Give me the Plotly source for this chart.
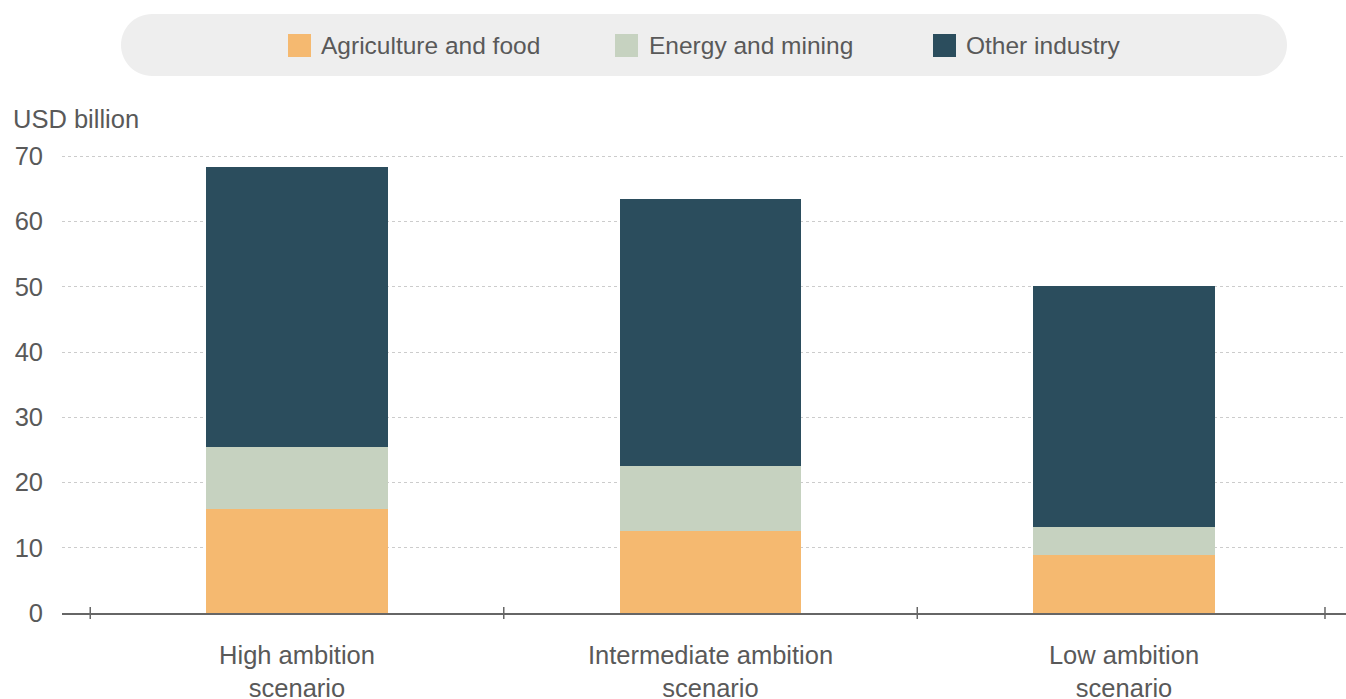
import plotly.graph_objects as go

# ---------------- data ----------------
categories = ["High ambition<br>scenario", "Intermediate ambition<br>scenario", "Low ambition<br>scenario"]
series_names = ["Agriculture and food", "Energy and mining", "Other industry"]
agri_food = [15.9, 12.5, 8.9]
energy_mining = [9.5, 10.1, 4.3]
other_industry = [42.9, 40.8, 36.9]
y_tick_values = [0, 10, 20, 30, 40, 50, 60, 70]
y_title = "USD billion"

# ---------------- styling ----------------
colors = ["#F5B970", "#C6D2C0", "#2B4D5D"]
text_color = "#595959"
axis_color = "#666666"
font_family = "Liberation Sans, Arial, sans-serif"
AXIS_FONT = 25.5
LEGEND_FONT = 24.5
W, H = 1346, 699
ML, MR, MT, MB = 62, 0, 153, 86
PW, PH = W - ML - MR, H - MT - MB


def px(x):
    return (x - ML) / PW


def py(y):
    return (H - MB - y) / PH


series_values = [agri_food, energy_mining, other_industry]

fig = go.Figure()
for name, vals, col in zip(series_names, series_values, colors):
    fig.add_trace(go.Bar(
        x=categories, y=vals, name=name, marker=dict(color=col, line=dict(width=0)),
        showlegend=False, hovertemplate="%{x}<br>" + name + ": %{y}<extra></extra>",
    ))

n = len(categories)
xr = [-0.5683, n - 1 + 0.5368]

shapes = []
annotations = []

# ----- legend (pill background, swatches, labels) -----
x0, x1, y0, y1 = 121, 1287, 14, 76
r = (y1 - y0) / 2
k = 0.5523 * r
ym = (y0 + y1) / 2
pts = [
    ("M", [(x0 + r, y0)]),
    ("L", [(x1 - r, y0)]),
    ("C", [(x1 - r + k, y0), (x1, ym - k), (x1, ym)]),
    ("C", [(x1, ym + k), (x1 - r + k, y1), (x1 - r, y1)]),
    ("L", [(x0 + r, y1)]),
    ("C", [(x0 + r - k, y1), (x0, ym + k), (x0, ym)]),
    ("C", [(x0, ym - k), (x0 + r - k, y0), (x0 + r, y0)]),
]
path = ""
for cmd, plist in pts:
    path += cmd + " ".join(f"{px(a):.5f},{py(b):.5f}" for a, b in plist) + " "
path += "Z"
shapes.append(dict(type="path", path=path, xref="paper", yref="paper",
                   fillcolor="#EEEEEE", line=dict(width=0), layer="below"))

swatch_x = [288, 615, 933]
text_x = [319, 647, 964]
for name, col, sx, tx in zip(series_names, colors, swatch_x, text_x):
    shapes.append(dict(type="rect", xref="paper", yref="paper",
                       x0=px(sx), x1=px(sx + 23), y0=py(34), y1=py(57),
                       fillcolor=col, line=dict(width=0)))
    annotations.append(dict(text=name, xref="paper", yref="paper", x=px(tx), y=py(45),
                            xanchor="left", yanchor="middle", showarrow=False,
                            font=dict(size=LEGEND_FONT, color=text_color, family=font_family)))

annotations.append(dict(text=y_title, xref="paper", yref="paper", x=px(11), y=py(119),
                        xanchor="left", yanchor="middle", showarrow=False,
                        font=dict(size=AXIS_FONT, color=text_color, family=font_family)))

# ----- x-axis tick marks crossing the axis line, at category boundaries -----
boundary_ticks = [i - 0.5 for i in range(n)] + [n - 1 + 0.486]
for bx in boundary_ticks:
    shapes.append(dict(type="line", xref="x", yref="paper", x0=bx, x1=bx,
                       y0=py(607), y1=py(619), line=dict(color=axis_color, width=1.5),
                       layer="above"))

fig.update_layout(
    width=W, height=H,
    margin=dict(l=ML, r=MR, t=MT, b=MB, autoexpand=False),
    paper_bgcolor="white", plot_bgcolor="white",
    barmode="stack", bargap=0.56,
    font=dict(family=font_family, size=AXIS_FONT, color=text_color),
    showlegend=False,
    shapes=shapes, annotations=annotations,
    xaxis=dict(
        type="category", range=xr, automargin=False,
        ticks="", showline=True, linecolor=axis_color, linewidth=2,
        showgrid=False, zeroline=False,
        tickfont=dict(size=AXIS_FONT, color=text_color, family=font_family),
        ticklabelstandoff=18,
    ),
    yaxis=dict(
        range=[0, 70.5], tickmode="array", tickvals=y_tick_values, automargin=False,
        showgrid=True, gridcolor="#CCCCCC", griddash="dot", gridwidth=1,
        zeroline=False, showline=False, ticks="",
        tickfont=dict(size=AXIS_FONT, color=text_color, family=font_family),
        ticklabelstandoff=18,
    ),
)

fig.write_html("out.html")
